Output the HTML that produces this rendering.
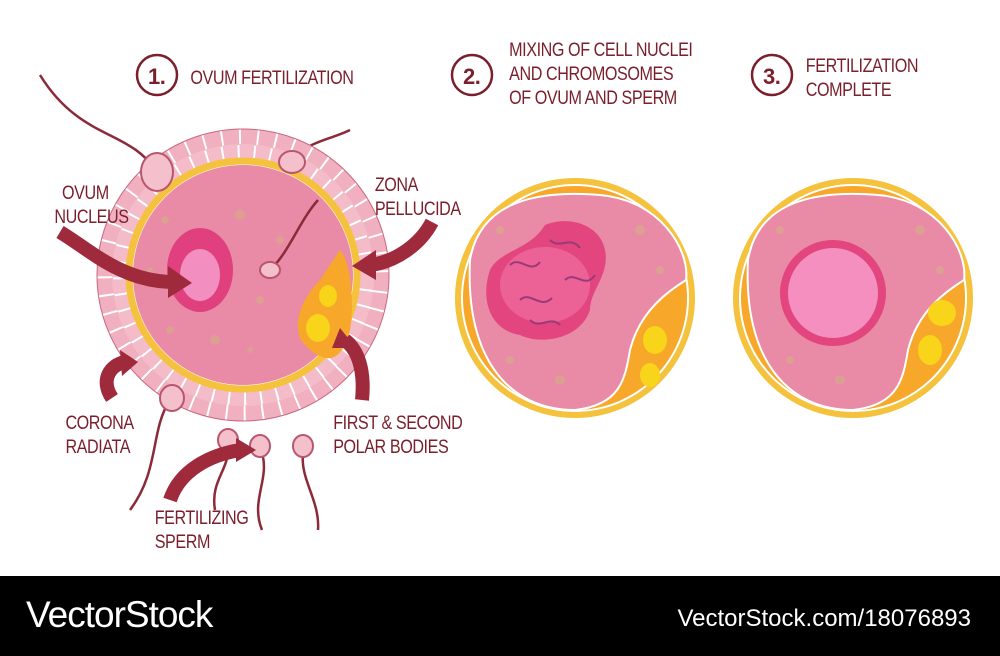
<!DOCTYPE html>
<html><head><meta charset="utf-8"><style>
html,body{margin:0;padding:0;background:#fff}
svg{display:block}
.t{font-family:"Liberation Sans",sans-serif;fill:#7a1f2b;font-size:19px;letter-spacing:-0.5px}
</style></head><body>
<svg width="1000" height="656" viewBox="0 0 1000 656" xmlns="http://www.w3.org/2000/svg">
<rect width="1000" height="656" fill="#fff"/>
<!-- sperm tails -->
<g fill="none" stroke="#8c2a3a" stroke-width="2.5">
<path d="M155 170 C130 130 80 140 40 75"/>
<path d="M292 160 C310 140 330 140 350 130"/>
<path d="M170 400 C150 430 160 470 130 510"/>
<path d="M228 445 C230 470 210 480 215 510"/>
<path d="M262 453 C270 480 250 500 262 530"/>
<path d="M303 453 C300 480 320 500 318 530"/>
</g>
<!-- cell 1 corona -->
<circle cx="243" cy="275" r="138" fill="none" stroke="#f0b0bf" stroke-width="16" stroke-dasharray="16 2"/>
<circle cx="243" cy="275" r="146" fill="none" stroke="#c9667f" stroke-width="1"/>
<circle cx="243" cy="275" r="123" fill="none" stroke="#f3bcc8" stroke-width="16" stroke-dasharray="14 2"/>
<circle cx="243" cy="275" r="114" fill="none" stroke="#f4c23c" stroke-width="7"/>
<circle cx="243" cy="275" r="110" fill="#e98aa6"/>
<path d="M320 280 C300 300 290 330 305 345 C320 360 340 370 350 330 C355 300 350 260 340 250 Z" fill="#f7a72a"/>
<ellipse cx="318" cy="328" rx="12" ry="14" fill="#f8d41a"/>
<ellipse cx="328" cy="296" rx="9" ry="11" fill="#f8d41a"/>
<ellipse cx="200" cy="270" rx="33" ry="42" fill="#e0407d"/>
<ellipse cx="200" cy="275" rx="20" ry="26" fill="#f28fc0"/>
<path d="M272 268 C290 250 300 220 318 200" fill="none" stroke="#8c2a3a" stroke-width="2.5"/>
<g fill="#d9a58e" opacity="0.8">
<circle cx="165" cy="220" r="4"/><circle cx="240" cy="215" r="5"/><circle cx="260" cy="300" r="4"/><circle cx="215" cy="340" r="5"/><circle cx="170" cy="330" r="4"/><circle cx="280" cy="240" r="4"/><circle cx="250" cy="350" r="3"/><circle cx="150" cy="270" r="3"/>
</g>
<!-- sperm heads -->
<g fill="#f4c0cc" stroke="#b9566e" stroke-width="2">
<ellipse cx="157" cy="172" rx="16" ry="19"/><ellipse cx="292" cy="162" rx="13" ry="11"/>
<ellipse cx="270" cy="270" rx="10" ry="8"/><ellipse cx="172" cy="398" rx="12" ry="13"/>
<ellipse cx="228" cy="440" rx="10" ry="11"/><ellipse cx="260" cy="446" rx="10" ry="11"/><ellipse cx="303" cy="446" rx="10" ry="11"/>
</g>
<!-- arrows -->
<g fill="none" stroke="#9e2a3c" stroke-width="14">
<path d="M60 232 C90 250 120 280 170 282"/>
<path d="M432 222 C420 245 395 262 370 265"/>
<path d="M112 398 C100 380 110 365 125 362"/>
<path d="M362 400 C365 370 358 350 345 340"/>
<path d="M170 500 C180 470 210 455 240 450"/>
</g>
<g fill="#9e2a3c">
<polygon points="168,266 192,283 168,298"/>
<polygon points="376,250 352,266 376,280"/>
<polygon points="120,350 138,362 122,376"/>
<polygon points="332,348 340,328 356,348"/>
<polygon points="236,438 256,450 236,462"/>
</g>
<!-- cell 2 -->
<circle cx="575" cy="298" r="120" fill="#f4c23c"/>
<circle cx="575" cy="298" r="114" fill="#fff"/>
<circle cx="575" cy="298" r="112" fill="#f7a72a"/>
<path d="M470 260 C480 200 540 190 600 195 C660 200 690 250 686 280 C670 290 640 310 630 350 C625 380 620 405 575 410 C510 410 465 360 470 260 Z" fill="#e98aa6" stroke="#fff" stroke-width="2"/>
<ellipse cx="655" cy="340" rx="12" ry="14" fill="#f8d41a"/><ellipse cx="650" cy="375" rx="10" ry="12" fill="#f8d41a"/>
<path d="M490 270 C500 250 530 250 545 225 C570 215 600 225 605 250 C610 275 590 290 590 310 C580 340 540 345 520 335 C490 330 480 300 490 270 Z" fill="#e3457e"/>
<ellipse cx="545" cy="285" rx="45" ry="38" fill="#ef6fa3" opacity="0.7"/>
<g fill="none" stroke="#9b3a78" stroke-width="2">
<path d="M510 265 C520 255 530 275 540 262"/><path d="M550 240 C560 250 570 235 580 248"/>
<path d="M520 300 C530 290 540 310 552 298"/><path d="M565 280 C575 270 585 290 595 275"/>
<path d="M530 320 C540 330 550 315 560 325"/>
</g>
<!-- cell 3 -->
<circle cx="853" cy="298" r="120" fill="#f4c23c"/>
<circle cx="853" cy="298" r="114" fill="#fff"/>
<circle cx="853" cy="298" r="112" fill="#f7a72a"/>
<path d="M748 260 C758 200 818 190 878 195 C938 200 968 250 964 280 C948 290 918 310 908 350 C903 380 898 405 853 410 C788 410 743 360 748 260 Z" fill="#e98aa6" stroke="#fff" stroke-width="2"/>
<ellipse cx="942" cy="313" rx="14" ry="13" fill="#f8d41a"/><ellipse cx="930" cy="350" rx="12" ry="15" fill="#f8d41a"/>
<circle cx="833" cy="293" r="53" fill="#e3457e"/>
<circle cx="833" cy="293" r="45" fill="#f58fc0"/>
<g fill="#d9a58e" opacity="0.8">
<circle cx="500" cy="230" r="4"/><circle cx="640" cy="230" r="5"/><circle cx="660" cy="270" r="4"/><circle cx="560" cy="380" r="5"/><circle cx="510" cy="360" r="4"/>
<circle cx="780" cy="230" r="4"/><circle cx="920" cy="230" r="5"/><circle cx="940" cy="270" r="4"/><circle cx="840" cy="380" r="5"/><circle cx="790" cy="360" r="4"/>
</g>
<!-- titles -->
<g fill="none" stroke="#7a1f2b" stroke-width="2.5">
<circle cx="157" cy="75" r="20"/><circle cx="472" cy="75" r="20"/><circle cx="772" cy="75" r="20"/>
</g>
<g class="t" style="font-size:22px;font-weight:bold">
<text x="148" y="84">1.</text><text x="463" y="84">2.</text><text x="763" y="84">3.</text>
</g>
<g class="t" transform="scale(0.85,1)">
<text x="224" y="84">OVUM FERTILIZATION</text>
<text x="599" y="56">MIXING OF CELL NUCLEI</text>
<text x="599" y="80">AND CHROMOSOMES</text>
<text x="599" y="104">OF OVUM AND SPERM</text>
<text x="948" y="72">FERTILIZATION</text>
<text x="948" y="96">COMPLETE</text>
<text x="73" y="199">OVUM</text>
<text x="64" y="223">NUCLEUS</text>
<text x="441" y="191">ZONA</text>
<text x="441" y="215">PELLUCIDA</text>
<text x="77" y="429">CORONA</text>
<text x="77" y="453">RADIATA</text>
<text x="392" y="429">FIRST &amp; SECOND</text>
<text x="392" y="453">POLAR BODIES</text>
<text x="182" y="524">FERTILIZING</text>
<text x="182" y="548">SPERM</text>
</g>
<!-- footer -->
<rect x="0" y="576" width="1000" height="80" fill="#000"/>
<text x="26" y="627" style="font-family:'Liberation Sans',sans-serif;font-size:37px;fill:#fff;letter-spacing:-1px">VectorStock</text>
<text x="971" y="626" text-anchor="end" style="font-family:'Liberation Sans',sans-serif;font-size:24px;fill:#fff">VectorStock.com/18076893</text>
</svg>
</body></html>
